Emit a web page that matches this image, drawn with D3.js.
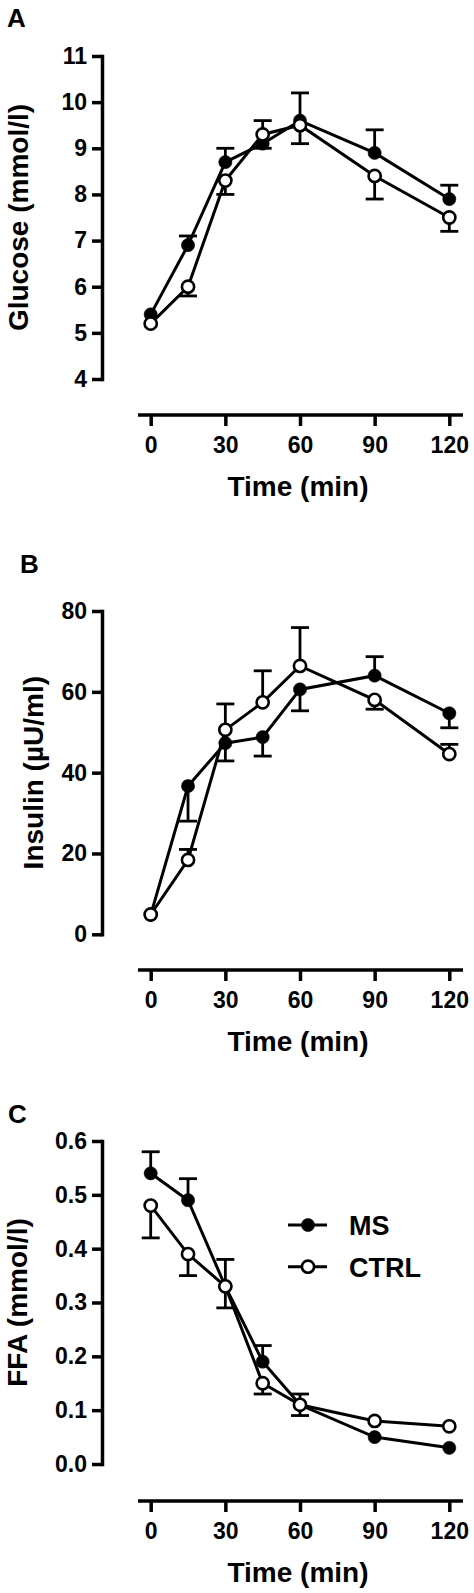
<!DOCTYPE html>
<html>
<head>
<meta charset="utf-8">
<script src="https://cdn.jsdelivr.net/npm/d3@7"></script>
<style>
  html, body { margin: 0; padding: 0; background: #fff; }
  svg { display: block; }
  text { font-family: "Liberation Sans", Arial, Helvetica, sans-serif; font-weight: bold; fill: #000; }
</style>
</head>
<body>
<script>
// ---- data ----
const time = [0, 15, 30, 45, 60, 90, 120];
const xTicks = [0, 30, 60, 90, 120];

const glucoseMS      = [5.4, 6.9, 8.7, 9.1, 9.6, 8.9, 7.9];
const glucoseMSErr   = [null, 7.1, 9.0, 9.0, 10.2, 9.4, 8.2];
const glucoseCTRL    = [5.2, 6.0, 8.3, 9.3, 9.5, 8.4, 7.5];
const glucoseCTRLErr = [null, 5.8, 8.0, 9.6, 9.1, 7.9, 7.2];
const glucoseTicks   = [4, 5, 6, 7, 8, 9, 10, 11];

const insulinMS      = [4.8, 36.7, 47.3, 48.8, 60.6, 64.0, 54.7];
const insulinMSErr   = [null, 28.0, 42.9, 44.1, 55.3, 68.7, 51.1];
const insulinCTRL    = [4.9, 18.4, 50.6, 57.4, 66.4, 58.0, 44.6];
const insulinCTRLErr = [null, 21.0, 57.0, 65.2, 75.9, 55.7, 47.0];
const insulinTicks   = [0, 20, 40, 60, 80];

const ffaMS      = [0.54, 0.49, 0.33, 0.19, 0.11, 0.05, 0.03];
const ffaMSErr   = [0.58, 0.53, 0.38, 0.22, 0.13, null, null];
const ffaCTRL    = [0.48, 0.39, 0.33, 0.15, 0.11, 0.08, 0.07];
const ffaCTRLErr = [0.42, 0.35, 0.29, 0.13, 0.09, null, null];
const ffaTicks   = [0, 0.1, 0.2, 0.3, 0.4, 0.5, 0.6];

const legendLabels = ["MS", "CTRL"];

// ---- drawing ----
const W = 474, H = 1593;
const svg = d3.select("body").append("svg").attr("width", W).attr("height", H);

const x = d3.scaleLinear().domain([0, 120]).range([150.7, 449.3]);

function drawPanel(p) {
  const g = svg.append("g");
  const y = d3.scaleLinear().domain(p.domain).range(p.yRange);

  // panel letter
  g.append("text").attr("x", p.letterX).attr("y", p.letterY)
    .style("font-size", "26px").text(p.letter);

  // y axis
  const ya = g.append("g").attr("transform", "translate(102,0)")
    .call(d3.axisLeft(y).tickValues(p.ticks).tickFormat(p.fmt)
      .tickSize(10).tickSizeOuter(0).tickPadding(5));
  ya.select(".domain").attr("stroke-width", 3.5).attr("stroke-linecap", "square");
  ya.selectAll(".tick line").attr("stroke-width", 3.5);
  ya.selectAll(".tick text").style("font-size", "23px").style("font-family", "Liberation Sans, Arial, sans-serif")
    .style("font-weight", "bold").attr("fill", "#000");

  // x axis
  const xa = g.append("g").attr("transform", `translate(0,${p.xAxisY})`)
    .call(d3.axisBottom(x).tickValues(xTicks).tickSize(11).tickSizeOuter(0).tickPadding(11));
  xa.select(".domain").remove();
  xa.append("line").attr("x1", x(-5.1)).attr("x2", x(125.5)).attr("y1", 0).attr("y2", 0)
    .attr("stroke", "#000").attr("stroke-width", 3.5);
  xa.selectAll(".tick line").attr("stroke-width", 3.5);
  xa.selectAll(".tick text").style("font-size", "23px").style("font-family", "Liberation Sans, Arial, sans-serif")
    .style("font-weight", "bold").attr("fill", "#000");

  // axis titles
  g.append("text").attr("x", 298).attr("y", p.xAxisY + 81)
    .attr("text-anchor", "middle").style("font-size", "28px").text("Time (min)");
  const cy = (p.yRange[0] + p.yRange[1]) / 2;
  g.append("text").attr("transform", `translate(${p.yLabelX},${cy}) rotate(-90)`)
    .attr("text-anchor", "middle").style("font-size", "28px").text(p.yLabel);

  const line = d3.line().x((d, i) => x(time[i])).y(d => y(d));
  const series = [
    { vals: p.ms, err: p.msErr, filled: true },
    { vals: p.ctrl, err: p.ctrlErr, filled: false }
  ];

  // error bars
  series.forEach(s => {
    s.vals.forEach((v, i) => {
      const e = s.err[i];
      if (e == null) return;
      g.append("line").attr("x1", x(time[i])).attr("x2", x(time[i]))
        .attr("y1", y(v)).attr("y2", y(e)).attr("stroke", "#000").attr("stroke-width", 2.8);
      g.append("line").attr("x1", x(time[i]) - 9).attr("x2", x(time[i]) + 9)
        .attr("y1", y(e)).attr("y2", y(e)).attr("stroke", "#000").attr("stroke-width", 2.8);
    });
  });

  // lines
  series.forEach(s => {
    g.append("path").datum(s.vals).attr("d", line)
      .attr("fill", "none").attr("stroke", "#000").attr("stroke-width", 3);
  });

  // markers
  series.forEach(s => {
    g.selectAll(null).data(s.vals).enter().append("circle")
      .attr("cx", (d, i) => x(time[i])).attr("cy", d => y(d))
      .attr("r", s.filled ? 6.6 : 6.1)
      .attr("fill", s.filled ? "#000" : "#fff")
      .attr("stroke", "#000").attr("stroke-width", s.filled ? 0.5 : 2.6);
  });

  return g;
}

drawPanel({
  letter: "A", letterX: 7, letterY: 27,
  domain: [4, 11], yRange: [379, 56], ticks: glucoseTicks, fmt: d3.format("d"),
  xAxisY: 415, yLabel: "Glucose (mmol/l)", yLabelX: 28,
  ms: glucoseMS, msErr: glucoseMSErr, ctrl: glucoseCTRL, ctrlErr: glucoseCTRLErr
});

drawPanel({
  letter: "B", letterX: 20, letterY: 573,
  domain: [0, 80], yRange: [934.3, 611], ticks: insulinTicks, fmt: d3.format("d"),
  xAxisY: 970, yLabel: "Insulin (µU/ml)", yLabelX: 42.5,
  ms: insulinMS, msErr: insulinMSErr, ctrl: insulinCTRL, ctrlErr: insulinCTRLErr
});

const gC = drawPanel({
  letter: "C", letterX: 8, letterY: 1123,
  domain: [0, 0.6], yRange: [1464, 1141], ticks: ffaTicks, fmt: d3.format(".1f"),
  xAxisY: 1501, yLabel: "FFA (mmol/l)", yLabelX: 27,
  ms: ffaMS, msErr: ffaMSErr, ctrl: ffaCTRL, ctrlErr: ffaCTRLErr
});

// legend
const legY = [1225, 1266.7];
legendLabels.forEach((lab, i) => {
  const lg = gC.append("g").attr("transform", `translate(0,${legY[i]})`);
  lg.append("line").attr("x1", 288).attr("x2", 327).attr("y1", 0).attr("y2", 0)
    .attr("stroke", "#000").attr("stroke-width", 3);
  lg.append("circle").attr("cx", 308).attr("cy", 0)
    .attr("r", i === 0 ? 6.6 : 6.1)
    .attr("fill", i === 0 ? "#000" : "#fff")
    .attr("stroke", "#000").attr("stroke-width", i === 0 ? 0.5 : 2.6);
  lg.append("text").attr("x", 349).attr("y", 10).style("font-size", "27px").text(lab);
});
</script>
</body>
</html>
